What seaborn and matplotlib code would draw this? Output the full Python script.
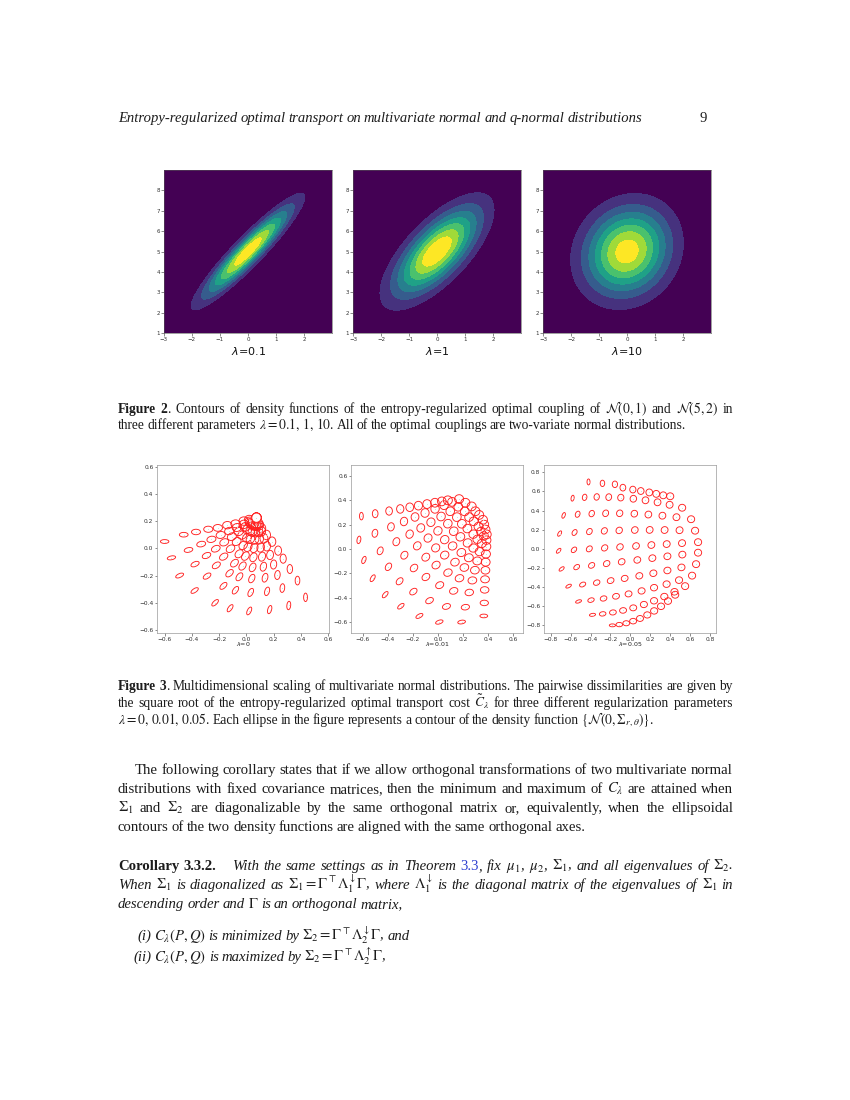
import numpy as np
import matplotlib
matplotlib.use("Agg")
import matplotlib.pyplot as plt
from matplotlib.patches import Ellipse
from matplotlib.colors import Normalize
from matplotlib.ticker import MaxNLocator
import seaborn as sns

# ---------------- Figure 2: optimal couplings of N(0,1) and N(5,2)
fig2_lambdas = ["0.1", "1", "10"]
fig2_mean = [0.0, 5.0]
fig2_var_x = 1.0
fig2_var_y = 2.0
fig2_cov_xy = [1.32, 1.00, 0.20]
fig2_xticks = [-3, -2, -1, 0, 1, 2]
fig2_yticks = [1, 2, 3, 4, 5, 6, 7, 8]

# ---------------- Figure 3: MDS of N(0, Sigma_{r,theta})
fig3_lambdas = ["0", "0.01", "0.05"]
# ellipse axes per ring (most eccentric ring first, circle last), one row per panel
ring_major = [
    [0.062, 0.064, 0.066, 0.067, 0.068, 0.069, 0.070, 0.070, 0.070, 0.068],
    [0.062, 0.066, 0.068, 0.070, 0.070, 0.071, 0.072, 0.072, 0.072, 0.072],
    [0.062, 0.066, 0.068, 0.070, 0.070, 0.071, 0.072, 0.072, 0.072, 0.072],
]
ring_minor = [
    [0.028, 0.034, 0.040, 0.045, 0.050, 0.054, 0.058, 0.062, 0.065, 0.068],
    [0.030, 0.045, 0.053, 0.058, 0.062, 0.065, 0.067, 0.068, 0.069, 0.072],
    [0.030, 0.045, 0.053, 0.058, 0.062, 0.065, 0.067, 0.068, 0.069, 0.072],
]

# lambda = 0
lam0_angle = [0, 12, 24, 34, 44, 54, 64, 74, 84, 90]
lam0_x = [
    [-0.60, -0.46, -0.37, -0.28, -0.21, -0.14, -0.08, -0.02, 0.02, 0.073],
    [-0.55, -0.425, -0.332, -0.257, -0.189, -0.126, -0.07, -0.02, 0.023, 0.073],
    [-0.49, -0.377, -0.293, -0.225, -0.163, -0.107, -0.056, -0.011, 0.028, 0.073],
    [-0.38, -0.289, -0.221, -0.167, -0.117, -0.072, -0.031, 0.005, 0.037, 0.073],
    [-0.23, -0.169, -0.124, -0.088, -0.054, -0.024, 0.003, 0.028, 0.049, 0.073],
    [-0.12, -0.081, -0.052, -0.029, -0.008, 0.011, 0.029, 0.044, 0.058, 0.073],
    [0.02, 0.031, 0.039, 0.045, 0.051, 0.056, 0.061, 0.065, 0.069, 0.073],
    [0.17, 0.151, 0.136, 0.124, 0.114, 0.104, 0.095, 0.088, 0.081, 0.073],
    [0.31, 0.263, 0.227, 0.199, 0.173, 0.149, 0.128, 0.109, 0.092, 0.073],
    [0.433, 0.374, 0.318, 0.269, 0.232, 0.188, 0.147, 0.11, 0.09, 0.073],
]
lam0_y = [
    [0.05, 0.10, 0.12, 0.14, 0.15, 0.17, 0.18, 0.20, 0.21, 0.225],
    [-0.07, -0.012, 0.031, 0.066, 0.098, 0.127, 0.153, 0.176, 0.197, 0.225],
    [-0.20, -0.116, -0.053, -0.003, 0.044, 0.086, 0.123, 0.157, 0.186, 0.225],
    [-0.31, -0.204, -0.125, -0.061, -0.003, 0.05, 0.098, 0.14, 0.178, 0.225],
    [-0.40, -0.276, -0.183, -0.109, -0.04, 0.022, 0.077, 0.127, 0.17, 0.225],
    [-0.44, -0.308, -0.209, -0.13, -0.057, 0.009, 0.068, 0.121, 0.167, 0.225],
    [-0.46, -0.324, -0.222, -0.14, -0.066, 0.002, 0.064, 0.118, 0.166, 0.225],
    [-0.45, -0.316, -0.216, -0.135, -0.061, 0.006, 0.066, 0.12, 0.166, 0.225],
    [-0.42, -0.292, -0.196, -0.119, -0.049, 0.015, 0.073, 0.124, 0.169, 0.225],
    [-0.36, -0.237, -0.152, -0.076, -0.017, 0.049, 0.098, 0.147, 0.18, 0.225],
]

# lambda = 0.01
lam001_angle = [90, 80, 70, 60, 50, 40, 30, 20, 10, 0]
lam001_x = [
    [-0.61, -0.50, -0.389, -0.30, -0.224, -0.155, -0.086, -0.023, 0.032, 0.08],
    [-0.63, -0.502, -0.374, -0.27, -0.182, -0.102, -0.022, 0.05, 0.114, 0.17],
    [-0.59, -0.46, -0.331, -0.225, -0.136, -0.055, 0.026, 0.099, 0.163, 0.22],
    [-0.52, -0.394, -0.267, -0.164, -0.078, 0.001, 0.08, 0.152, 0.215, 0.27],
    [-0.42, -0.305, -0.19, -0.096, -0.017, 0.055, 0.127, 0.192, 0.25, 0.30],
    [-0.295, -0.195, -0.095, -0.014, 0.055, 0.118, 0.18, 0.236, 0.286, 0.33],
    [-0.147, -0.066, 0.015, 0.081, 0.137, 0.188, 0.238, 0.284, 0.325, 0.36],
    [0.012, 0.069, 0.127, 0.173, 0.212, 0.248, 0.284, 0.316, 0.345, 0.37],
    [0.19, 0.22, 0.251, 0.276, 0.296, 0.315, 0.334, 0.352, 0.367, 0.38],
    [0.367, 0.371, 0.374, 0.377, 0.38, 0.382, 0.384, 0.387, 0.388, 0.39],
]
lam001_y = [
    [0.27, 0.29, 0.312, 0.329, 0.343, 0.356, 0.369, 0.38, 0.391, 0.40],
    [0.075, 0.129, 0.182, 0.226, 0.263, 0.296, 0.33, 0.36, 0.387, 0.41],
    [-0.09, -0.015, 0.06, 0.122, 0.173, 0.22, 0.267, 0.31, 0.347, 0.38],
    [-0.24, -0.146, -0.051, 0.026, 0.09, 0.149, 0.208, 0.262, 0.309, 0.35],
    [-0.375, -0.265, -0.156, -0.067, 0.009, 0.077, 0.146, 0.207, 0.262, 0.31],
    [-0.47, -0.35, -0.23, -0.132, -0.05, 0.025, 0.10, 0.168, 0.228, 0.28],
    [-0.55, -0.424, -0.297, -0.194, -0.108, -0.029, 0.05, 0.122, 0.185, 0.24],
    [-0.60, -0.472, -0.344, -0.24, -0.152, -0.072, 0.008, 0.08, 0.144, 0.20],
    [-0.60, -0.478, -0.357, -0.258, -0.174, -0.098, -0.022, 0.046, 0.107, 0.16],
    [-0.55, -0.443, -0.336, -0.249, -0.175, -0.108, -0.041, 0.02, 0.073, 0.12],
]

# lambda = 0.05
lam005_angle = [90, 80, 70, 60, 50, 40, 30, 20, 10, 0]
lam005_x = [
    [-0.42, -0.28, -0.155, -0.075, 0.025, 0.105, 0.19, 0.26, 0.33, 0.40],
    [-0.58, -0.459, -0.338, -0.217, -0.096, 0.03, 0.152, 0.273, 0.394, 0.52],
    [-0.67, -0.529, -0.388, -0.248, -0.107, 0.04, 0.181, 0.322, 0.463, 0.61],
    [-0.71, -0.56, -0.411, -0.261, -0.112, 0.045, 0.194, 0.344, 0.494, 0.65],
    [-0.72, -0.566, -0.412, -0.258, -0.104, 0.057, 0.211, 0.365, 0.519, 0.68],
    [-0.69, -0.539, -0.389, -0.238, -0.087, 0.07, 0.221, 0.372, 0.522, 0.68],
    [-0.62, -0.479, -0.338, -0.198, -0.057, 0.09, 0.231, 0.372, 0.513, 0.66],
    [-0.52, -0.395, -0.269, -0.144, -0.018, 0.113, 0.238, 0.364, 0.489, 0.62],
    [-0.38, -0.278, -0.175, -0.073, 0.029, 0.136, 0.238, 0.341, 0.443, 0.55],
    [-0.18, -0.111, -0.041, 0.028, 0.097, 0.17, 0.239, 0.308, 0.378, 0.45],
]
lam005_y = [
    [0.70, 0.685, 0.675, 0.64, 0.62, 0.605, 0.59, 0.575, 0.56, 0.55],
    [0.53, 0.539, 0.543, 0.541, 0.536, 0.524, 0.508, 0.487, 0.461, 0.43],
    [0.35, 0.362, 0.369, 0.372, 0.372, 0.368, 0.359, 0.347, 0.331, 0.31],
    [0.16, 0.171, 0.181, 0.188, 0.193, 0.197, 0.198, 0.197, 0.195, 0.19],
    [-0.02, -0.01, 0.0, 0.01, 0.02, 0.03, 0.04, 0.05, 0.06, 0.07],
    [-0.21, -0.191, -0.173, -0.154, -0.135, -0.116, -0.097, -0.078, -0.06, -0.04],
    [-0.39, -0.373, -0.353, -0.332, -0.309, -0.282, -0.255, -0.226, -0.194, -0.16],
    [-0.55, -0.536, -0.519, -0.496, -0.471, -0.44, -0.406, -0.369, -0.327, -0.28],
    [-0.69, -0.68, -0.665, -0.644, -0.617, -0.582, -0.543, -0.499, -0.449, -0.39],
    [-0.80, -0.792, -0.778, -0.756, -0.728, -0.691, -0.649, -0.601, -0.546, -0.48],
]

fig3_xlims = [(-0.656, 0.605), (-0.693, 0.68), (-0.867, 0.86)]
fig3_ylims = [(-0.622, 0.612), (-0.69, 0.69), (-0.88, 0.877)]
fig3_ticks = [[-0.6, -0.4, -0.2, 0.0, 0.2, 0.4, 0.6],
              [-0.6, -0.4, -0.2, 0.0, 0.2, 0.4, 0.6],
              [-0.8, -0.6, -0.4, -0.2, 0.0, 0.2, 0.4, 0.6, 0.8]]

# ---------------- page text
header_text = "Entropy-regularized optimal transport on multivariate normal and q-normal distributions"
page_number = "9"
cap2_lines = [
    r"b:Figure b:2|. Contours of density functions of the entropy-regularized optimal coupling of $\mathcal{N}(0,1)$ and $\mathcal{N}(5,2)$ in",
    r"three different parameters $\lambda=0.1,\,1,\,10$. All of the optimal couplings are two-variate normal distributions.",
]
cap3_lines = [
    r"b:Figure b:3|. Multidimensional scaling of multivariate normal distributions. The pairwise dissimilarities are given by",
    r"the square root of the entropy-regularized optimal transport cost $\tilde{C}_\lambda$ for three different regularization parameters",
    r"$\lambda=0,\,0.01,\,0.05$. Each ellipse in the figure represents a contour of the density function $\{\mathcal{N}(0,\Sigma_{r,\theta})\}$.",
]
body_lines = [
    "The following corollary states that if we allow orthogonal transformations of two multivariate normal",
    r"distributions with fixed covariance matrices, then the minimum and maximum of $C_\lambda$ are attained when",
    r"$\Sigma_1$ and $\Sigma_2$ are diagonalizable by the same orthogonal matrix or, equivalently, when the ellipsoidal",
    "contours of the two density functions are aligned with the same orthogonal axes.",
]
coro_lines = [
    r"b:Corollary b:3.3.2. ~ With the same settings as in Theorem l:3.3|, fix $\mu_1$, $\mu_2$, $\Sigma_1$, and all eigenvalues of $\Sigma_2$.",
    r"When $\Sigma_1$ is diagonalized as $\Sigma_1=\Gamma^{\top}\Lambda_1^{\downarrow}\Gamma$, where $\Lambda_1^{\downarrow}$ is the diagonal matrix of the eigenvalues of $\Sigma_1$ in",
    r"descending order and $\Gamma$ is an orthogonal matrix,",
]
item_lines = [
    r"(i) $C_\lambda(P,Q)$ is minimized by $\Sigma_2=\Gamma^{\top}\Lambda_2^{\downarrow}\Gamma$, and",
    r"(ii) $C_\lambda(P,Q)$ is maximized by $\Sigma_2=\Gamma^{\top}\Lambda_2^{\uparrow}\Gamma$,",
]

sns.set_theme(style="white")
plt.rcParams["font.family"] = ["DejaVu Sans"]

W, H, DPI = 850, 1100, 100
fig = plt.figure(figsize=(W / DPI, H / DPI), dpi=DPI)
fig.patch.set_facecolor("white")
rend = fig.canvas.get_renderer()

INK = "#1c1c1c"
SERIF = ["Liberation Serif", "DejaVu Serif"]
STYLES = {
    "r": {},
    "b": {"fontweight": "bold"},
    "i": {"fontstyle": "italic"},
    "l": {"color": "#2c3fd0"},
}
SPACE = 0.2   # natural word gap, in em


def box(x0, y0, x1, y1):
    return [x0 / W, 1 - y1 / H, (x1 - x0) / W, (y1 - y0) / H]


def parse(line, default):
    words = []
    for w in line.split(" "):
        if w == "~":
            words.append(None)
            continue
        segs = []
        for s in w.split("|"):
            if len(s) > 1 and s[1] == ":" and s[0] in STYLES:
                segs.append((s[0], s[2:]))
            else:
                segs.append((default, s))
        words.append(segs)
    return words


def make_text(x, y, s, style, size):
    kw = dict(fontsize=size, family=SERIF, color=INK, math_fontfamily="stix")
    kw.update(STYLES[style])
    return fig.text(x / W, 1 - y / H, s, ha="left", va="baseline", **kw)


def seg_w(s, style, size):
    t = make_text(0, 0, s, style, size)
    w = t.get_window_extent(renderer=rend).width
    t.remove()
    return w


def natural_width(line, size, default="r"):
    total, n, extra = 0.0, 0, 0
    for w in parse(line, default):
        if w is None:
            extra += 1
            continue
        total += sum(seg_w(t, st, size) for st, t in w)
        n += 1
    em = size * DPI / 72
    return total + (n - 1) * SPACE * em + extra * 0.75 * em


def fit_size(pairs, default="r"):
    # largest size at which every line fits its target width
    return min(10 * target / natural_width(ln, 10, default) for ln, target in pairs)


def draw_line(line, x0, y, size, x1=None, default="r"):
    words = parse(line, default)
    widths = [None if w is None else [seg_w(t, st, size) for st, t in w] for w in words]
    em = size * DPI / 72
    n_real = sum(1 for w in words if w is not None)
    extra = sum(1 for w in words if w is None) * 0.75 * em
    total = sum(sum(ws) for ws in widths if ws is not None)
    gap = SPACE * em
    if x1 is not None and n_real > 1:
        gap = max((x1 - x0 - total - extra) / (n_real - 1), 0.15 * em)
    x = x0
    for w, ws in zip(words, widths):
        if w is None:
            x += 0.75 * em
            continue
        for (st, t), sw in zip(w, ws):
            make_text(x, y, t, st, size)
            x += sw
        x += gap


# ---------------- Figure 2 panels
gx = np.linspace(-3, 3, 400)
gy = np.linspace(1, 9, 400)
GX, GY = np.meshgrid(gx, gy)
top_boxes = [box(164, 170, 332, 333), box(353, 170, 521, 333), box(543, 170, 711, 333)]
for b, c, lam in zip(top_boxes, fig2_cov_xy, fig2_lambdas):
    ax = fig.add_axes(b)
    S = np.array([[fig2_var_x, c], [c, fig2_var_y]])
    Si = np.linalg.inv(S)
    dx = GX - fig2_mean[0]
    dy = GY - fig2_mean[1]
    q = Si[0, 0] * dx ** 2 + 2 * Si[0, 1] * dx * dy + Si[1, 1] * dy ** 2
    Z = np.exp(-q / 2) / (2 * np.pi * np.sqrt(np.linalg.det(S)))
    levels = MaxNLocator(8).tick_values(0, Z.max())
    mids = (levels[:-1] + levels[1:]) / 2
    ax.contourf(GX, GY, Z, levels=levels, cmap="viridis", norm=Normalize(mids[0], mids[-1]))
    ax.set_xlim(-3, 3)
    ax.set_ylim(1, 9)
    ax.set_xticks(fig2_xticks)
    ax.set_yticks(fig2_yticks)
    ax.tick_params(labelsize=4, length=2, width=0.4, pad=1, colors="#333333", left=True, bottom=True)
    for sp in ax.spines.values():
        sp.set_linewidth(0.4)
        sp.set_color("#555555")
    cx = (b[0] + b[2] / 2)
    fig.text(cx, 1 - 351 / H, r"$\lambda$=" + lam, ha="center", va="center", fontsize=8,
             family="DejaVu Sans", math_fontfamily="dejavusans", color="#111111")

# ---------------- Figure 3 panels
bottom_boxes = [box(157, 465, 329, 633), box(351, 465, 523, 633), box(544, 465, 716, 633)]
panels = [(lam0_x, lam0_y, lam0_angle), (lam001_x, lam001_y, lam001_angle), (lam005_x, lam005_y, lam005_angle)]
for i, (b, (xs, ys, angs)) in enumerate(zip(bottom_boxes, panels)):
    ax = fig.add_axes(b)
    for k in range(len(xs)):
        for j in range(len(xs[k])):
            apex = (i == 0 and j == len(xs[k]) - 1)
            e = Ellipse((xs[k][j], ys[k][j]), ring_major[i][j], ring_minor[i][j], angle=angs[k],
                        facecolor="white" if apex else "none", edgecolor="#ff2020",
                        linewidth=0.65, zorder=3 if apex else 2)
            ax.add_patch(e)
    sns.scatterplot(x=np.ravel(xs), y=np.ravel(ys), s=0.5, color="#3a4a40", linewidth=0,
                    ax=ax, legend=False, zorder=4)
    ax.set_xlim(*fig3_xlims[i])
    ax.set_ylim(*fig3_ylims[i])
    ax.set_xticks(fig3_ticks[i])
    ax.set_yticks(fig3_ticks[i])
    ax.set_xlabel("")
    ax.set_ylabel("")
    ax.tick_params(labelsize=4.2, length=1.8, width=0.4, pad=0.8, colors="#333333", left=True, bottom=True)
    for sp in ax.spines.values():
        sp.set_linewidth(0.5)
        sp.set_color("#9a9a9a")
    cx = (b[0] + b[2] / 2)
    fig.text(cx, 1 - 644 / H, r"$\lambda$=" + fig3_lambdas[i], ha="center", va="center", fontsize=4.5,
             family="DejaVu Sans", math_fontfamily="dejavusans", color="#222222")

# ---------------- page text
size_head = fit_size([(header_text, 519)], "i")
draw_line(header_text, 118, 122, size_head, default="i")
fig.text(707 / W, 1 - 122 / H, page_number, ha="right", va="baseline", fontsize=size_head,
         family=SERIF, color=INK)

size_cap = fit_size([(cap2_lines[0], 608), (cap2_lines[1], 587), (cap3_lines[0], 608),
                     (cap3_lines[1], 608), (cap3_lines[2], 590)])
draw_line(cap2_lines[0], 118, 413, size_cap, x1=733)
draw_line(cap2_lines[1], 118, 429, size_cap)
for n, (ln, y) in enumerate(zip(cap3_lines, [690, 707, 724])):
    draw_line(ln, 118, y, size_cap, x1=733 if n < 2 else None)

size_body = min(fit_size([(body_lines[0], 592), (body_lines[1], 609), (body_lines[2], 609),
                          (body_lines[3], 504)]),
                fit_size([(coro_lines[0], 609), (coro_lines[1], 609)], "i"))
for n, (ln, y) in enumerate(zip(body_lines, [774, 793, 812, 831])):
    draw_line(ln, 135 if n == 0 else 118, y, size_body, x1=733 if n < 3 else None)
for n, (ln, y) in enumerate(zip(coro_lines, [870, 889, 908])):
    draw_line(ln, 118, y, size_body, x1=733 if n < 2 else None, default="i")
draw_line(item_lines[0], 137, 940, size_body, default="i")
draw_line(item_lines[1], 133, 961, size_body, default="i")

fig.savefig("out.png", dpi=DPI)
